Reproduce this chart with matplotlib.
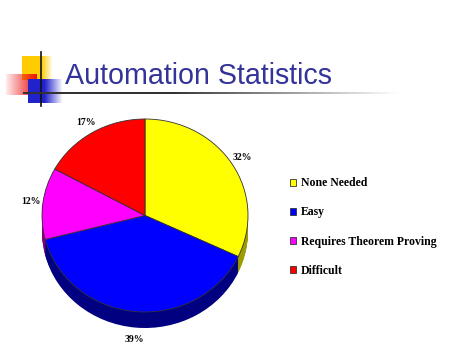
import numpy as np
import matplotlib
matplotlib.use("Agg")
import matplotlib.pyplot as plt
from matplotlib.colors import to_rgb

# Data
title = "Automation Statistics"
categories = ["None Needed", "Easy", "Requires Theorem Proving", "Difficult"]
shares = [32, 39, 12, 17]
top_colors = ["#FFFF00", "#0000FF", "#FF00FF", "#FF0000"]
side_colors = ["#9C9C00", "#000080", "#800080", "#800000"]

W, H = 474, 355
fig = plt.figure(figsize=(W / 100, H / 100), dpi=100)
fig.patch.set_facecolor("white")

# background layer in pixel coordinates (slide decoration)
bg = fig.add_axes([0, 0, 1, 1])
bg.axis("off")


def gradient_box(ax, x0, x1, y0, y1, color, alphas, z):
    rgba = np.zeros((1, len(alphas), 4))
    rgba[..., :3] = to_rgb(color)
    rgba[0, :, 3] = alphas
    ax.imshow(rgba, extent=(x0, x1, y1, y0), aspect="auto", zorder=z,
              interpolation="bilinear")


# yellow, red, blue squares
gradient_box(bg, 22, 53, 56, 80, "#FFCC00",
             np.concatenate([np.ones(40), np.linspace(1, 0, 24)]), 1)
gradient_box(bg, 6, 37, 74, 95, "#EE1111", np.linspace(0.08, 1.0, 64), 2)
gradient_box(bg, 28, 63, 79, 103, "#2222CC",
             np.concatenate([np.ones(30), np.linspace(1, 0, 34)]), 3)
# lines
bg.plot([41, 41], [52, 106], color="#111111", lw=1.2, zorder=4)
gradient_box(bg, 23, 400, 92, 94, "#333333",
             np.concatenate([np.ones(50), np.linspace(1, 0, 78)]), 4)
bg.set_xlim(0, W)
bg.set_ylim(H, 0)

bg.text(65, 84, title, fontsize=20.6, color="#333399", family="Liberation Sans",
        va="baseline", ha="left", zorder=5)

# pie as a tilted disc
cx, cy, rx, ry, depth = 145, 215.5, 103, 96.5, 16
d = depth / ry
pax = fig.add_axes([(cx - rx) / W, (H - (cy + ry + depth)) / H,
                    2 * rx / W, (2 * ry + depth) / H])

for k in range(depth, 0, -1):
    pax.pie(shares, colors=side_colors, startangle=90, counterclock=False,
            center=(0, -d * k / depth), radius=1, frame=True,
            wedgeprops=dict(linewidth=0))
wedges, _ = pax.pie(shares, colors=top_colors, startangle=90, counterclock=False,
                    center=(0, 0), radius=1, frame=True,
                    wedgeprops=dict(edgecolor="#333333", linewidth=0.6))
pax.set_aspect("auto")
pax.set_xlim(-1, 1)
pax.set_ylim(-1 - d, 1)
pax.axis("off")

r = 1.12
for w, s in zip(wedges, shares):
    a = np.deg2rad((w.theta1 + w.theta2) / 2)
    x = r * np.cos(a)
    y = r * np.sin(a) - d * max(0.0, -np.sin(a))
    pax.text(x, y, f"{s}%", ha="center", va="center", fontsize=7,
             fontweight="bold", family="Liberation Serif")

fig.legend(wedges, categories, loc="upper left",
           bbox_to_anchor=(290 / W, 1 - 177.5 / H), frameon=False,
           borderpad=0, borderaxespad=0, handlelength=0.55, handleheight=0.55,
           handletextpad=0.4, labelspacing=1.44,
           prop=dict(family="Liberation Serif", weight="bold", size=8.5))

fig.savefig("out.png", dpi=100, facecolor="white")
